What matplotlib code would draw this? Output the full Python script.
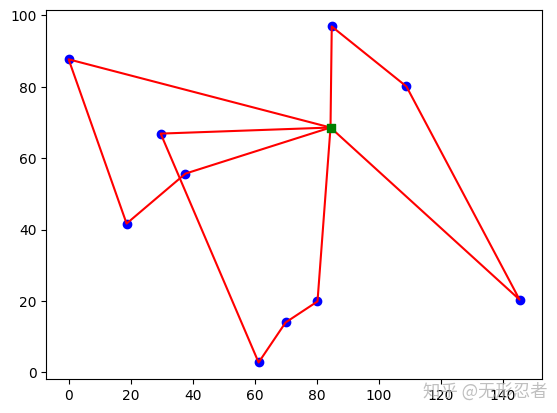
import matplotlib
matplotlib.use("Agg")
from matplotlib import pyplot as plt

DEPOT = (84.5, 68.6)
CUST_X = [84.9, 109.0, 145.5, 0.0, 18.7, 37.7, 29.7, 61.3, 70.0, 80.3]
CUST_Y = [96.9, 80.1, 20.4, 87.7, 41.7, 55.7, 66.9, 2.8, 14.0, 19.9]
# each route lists customer indices, starting and ending at the depot
ROUTES = [[0, 1, 2], [3, 4, 5], [6, 7, 8, 9]]

fig = plt.figure(figsize=(6.4, 4.8), dpi=100)

plt.scatter(CUST_X, CUST_Y, c='b')
for route in ROUTES:
    xs = [DEPOT[0]] + [CUST_X[i] for i in route] + [DEPOT[0]]
    ys = [DEPOT[1]] + [CUST_Y[i] for i in route] + [DEPOT[1]]
    plt.plot(xs, ys, c='r')
plt.scatter([DEPOT[0]], [DEPOT[1]], c='g', marker='s', zorder=3)

# watermark
fig.text(0.714, 0.075, "知乎 @无形忍者", color='#b0b0b0', alpha=0.8, fontsize=12.5,
         family=['Noto Sans CJK SC', 'DejaVu Sans'], va='baseline')
plt.savefig("out.png", dpi=100, bbox_inches='tight')
